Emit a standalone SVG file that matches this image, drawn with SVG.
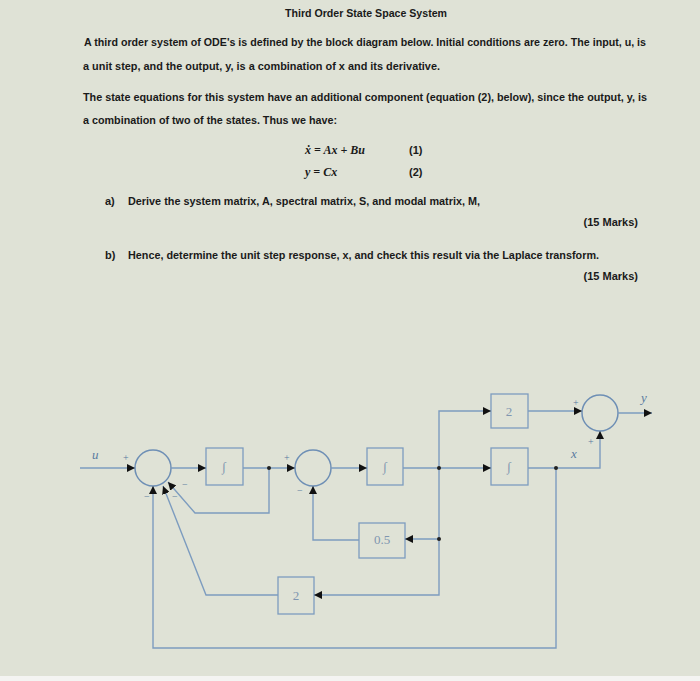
<svg xmlns="http://www.w3.org/2000/svg" width="700" height="681" viewBox="0 0 700 681">
<defs>
<marker id="ah" viewBox="0 0 10 10" refX="10" refY="5" markerWidth="8" markerHeight="8" orient="auto" markerUnits="userSpaceOnUse"><path d="M0,0L10,5L0,10z" fill="#111"/></marker>
</defs>
<style>
.t{font-family:"Liberation Sans",Arial,sans-serif;font-weight:bold;font-size:11px;fill:#1a1a1a}
.m{font-family:"Liberation Serif",serif;font-style:italic;font-weight:bold;font-size:12px;fill:#1a1a1a}
.b{fill:none;stroke:#7d9cbf;stroke-width:1.4}
.c{fill:none;stroke:#6e8fb5;stroke-width:1.5}
.w{fill:none;stroke:#7d9cbf;stroke-width:1.3}
.bl{font-family:"Liberation Serif",serif;font-size:13px;fill:#8096b0;text-anchor:middle}
.s{font-family:"Liberation Serif",serif;font-size:10px;fill:#5a7aa0}
.lb{font-family:"Liberation Serif",serif;font-style:italic;font-size:13px;fill:#5a7aa0}
</style>
<rect width="700" height="681" fill="#dfe2d6"/>
<rect y="676" width="700" height="5" fill="#f4f4f2"/>
<g id="text">
<text class="t" x="366" y="17" text-anchor="middle" textLength="162" lengthAdjust="spacingAndGlyphs">Third Order State Space System</text>
<text class="t" x="84" y="46" textLength="562" lengthAdjust="spacingAndGlyphs">A third order system of ODE's is defined by the block diagram below. Initial conditions are zero. The input, u, is</text>
<text class="t" x="83" y="70" textLength="357" lengthAdjust="spacingAndGlyphs">a unit step, and the output, y, is a combination of x and its derivative.</text>
<text class="t" x="83" y="101" textLength="564" lengthAdjust="spacingAndGlyphs">The state equations for this system have an additional component (equation (2), below), since the output, y, is</text>
<text class="t" x="83" y="124" textLength="254" lengthAdjust="spacingAndGlyphs">a combination of two of the states. Thus we have:</text>
<text class="m" x="305" y="154">ẋ = Ax + Bu</text>
<text class="t" x="409" y="154">(1)</text>
<text class="m" x="305" y="176">y = Cx</text>
<text class="t" x="409" y="176">(2)</text>
<text class="t" x="105" y="205">a)</text>
<text class="t" x="128" y="205" textLength="352" lengthAdjust="spacingAndGlyphs">Derive the system matrix, A, spectral matrix, S, and modal matrix, M,</text>
<text class="t" x="638" y="226" text-anchor="end">(15 Marks)</text>
<text class="t" x="105" y="259">b)</text>
<text class="t" x="128" y="259" textLength="471" lengthAdjust="spacingAndGlyphs">Hence, determine the unit step response, x, and check this result via the Laplace transform.</text>
<text class="t" x="638" y="280" text-anchor="end">(15 Marks)</text>
</g>
<g id="sum1"><circle class="c" cx="153" cy="468" r="18"/></g>
<g id="int1"><rect class="w" x="206" y="448" width="37" height="37"/><text class="bl" x="224" y="471">∫</text></g>
<g id="sum2"><circle class="c" cx="313" cy="468" r="18"/></g>
<g id="int2"><rect class="w" x="367" y="448" width="36" height="37"/><text class="bl" x="385" y="471">∫</text></g>
<g id="gain2a"><rect class="w" x="491" y="394" width="37" height="34"/><text class="bl" x="509" y="416">2</text></g>
<g id="sum3"><circle class="c" cx="600" cy="413" r="18"/></g>
<g id="int3"><rect class="w" x="491" y="448" width="37" height="37"/><text class="bl" x="509" y="471">∫</text></g>
<g id="gain05"><rect class="w" x="359" y="523" width="46" height="35"/><text class="bl" x="382" y="544">0.5</text></g>
<g id="gain2b"><rect class="w" x="278" y="577" width="36" height="37"/><text class="bl" x="296" y="600">2</text></g>
<g id="connectors">
<path class="b" d="M80,468H135" marker-end="url(#ah)"/>
<path class="b" d="M171,468H206" marker-end="url(#ah)"/>
<path class="b" d="M243,468H295" marker-end="url(#ah)"/>
<path class="b" d="M331,468H367" marker-end="url(#ah)"/>
<path class="b" d="M403,468H491" marker-end="url(#ah)"/>
<path class="b" d="M439,468V411H491" marker-end="url(#ah)"/>
<path class="b" d="M528,411H582" marker-end="url(#ah)"/>
<path class="b" d="M618,413H652" marker-end="url(#ah)"/>
<path class="b" d="M528,468H600V431" marker-end="url(#ah)"/>
<path class="b" d="M269,468V513H195L168,482" marker-end="url(#ah)"/>
<path class="b" d="M439,468V595H314" marker-end="url(#ah)"/>
<path class="b" d="M439,539H405" marker-end="url(#ah)"/>
<path class="b" d="M359,540H313V486" marker-end="url(#ah)"/>
<path class="b" d="M278,595H206L163,486" marker-end="url(#ah)"/>
<path class="b" d="M556,468V648H153V486" marker-end="url(#ah)"/>
<circle cx="269" cy="468" r="2" fill="#222"/>
<circle cx="439" cy="468" r="2" fill="#222"/>
<circle cx="439" cy="539" r="2" fill="#222"/>
<circle cx="556" cy="468" r="2" fill="#222"/>
</g>
<g id="labels">
<text class="lb" x="92" y="459">u</text>
<text class="lb" x="641" y="402">y</text>
<text class="lb" x="571" y="458">x</text>
<text class="s" x="123" y="461">+</text>
<text class="s" x="284" y="461">+</text>
<text class="s" x="573" y="406">+</text>
<text class="s" x="588" y="445">+</text>
<text class="s" x="182" y="488">−</text>
<text class="s" x="172" y="500">−</text>
<text class="s" x="144" y="500">−</text>
<text class="s" x="297" y="494">−</text>
</g>
</svg>
